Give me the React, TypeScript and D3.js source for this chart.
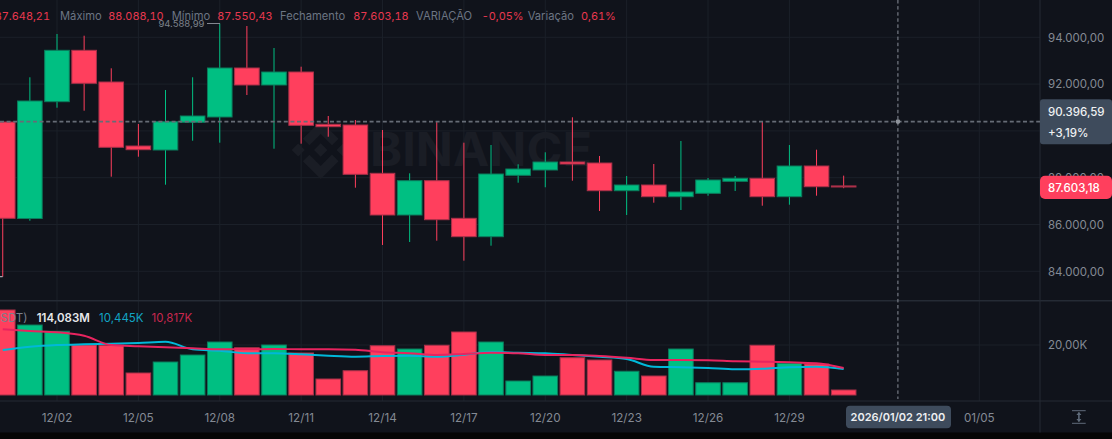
import React from "react";
import * as d3 from "d3";

const opens = [90380, 86256, 91248, 93444, 92090, 89355, 89184, 90368, 90594, 92688, 91962, 92517, 90282, 90252, 88188, 86406, 87872, 86265, 85479, 88103, 88329, 88671, 88628, 87444, 87688, 87188, 87333, 87846, 87974, 87188, 88500, 87648];
const closes = [86265, 91278, 93444, 92034, 89299, 89197, 90393, 90637, 92688, 91962, 92517, 90239, 90180, 88145, 86406, 87872, 86205, 85479, 88158, 88372, 88671, 88585, 87444, 87688, 87188, 87389, 87902, 87974, 87188, 88500, 87615, 87603];
const highs = [90380, 92291, 94141, 94068, 92675, 90295, 91748, 92291, 94589, 94483, 93543, 92744, 90637, 90466, 90038, 88188, 90380, 89496, 89397, 88573, 89085, 90581, 88927, 88073, 88585, 89568, 87987, 88073, 90380, 89397, 89197, 88088];
const lows = [83769, 86162, 90991, 90863, 88043, 88897, 87701, 89581, 89496, 91534, 89239, 89453, 89752, 87573, 85124, 85252, 85308, 84453, 85094, 87786, 87590, 87872, 86577, 86406, 86932, 86620, 87231, 87432, 86803, 86846, 87231, 87550];
// volume in thousands
const volumes = [34, 28, 25.5, 20, 19.9, 8.8, 13.2, 16, 21.2, 18.9, 20, 16.8, 6.4, 9.7, 19.7, 18.4, 19.9, 25.2, 21.2, 5.6, 7.6, 14.9, 14, 9.5, 7.6, 18.4, 4.9, 4.9, 19.9, 12.7, 12.4, 2];
const maPink = [26.3, 25.6, 25.1, 23.7, 20, 19.5, 19.1, 18.7, 18.3, 18.3, 18.4, 18.3, 18.3, 18.1, 17.1, 16.7, 16, 16.4, 16.9, 16.7, 16, 16, 15.6, 14.9, 14, 14, 13.9, 13.5, 13.3, 13.1, 12.7, 10.817];
const maCyan = [18, 19.3, 20, 20.3, 20.5, 20.8, 21.3, 18.3, 17.7, 16.7, 16.7, 16.3, 15.7, 15.3, 15.6, 15.7, 15.3, 16.1, 17.2, 16.9, 16.7, 16, 15.3, 14.4, 11.3, 11.1, 10.8, 10.3, 10.5, 11.1, 11.3, 10.445];

const priceTicks = [84000, 86000, 88000, 90000, 92000, 94000];
const volumeTicks = [20];
const timeTicks = ["2025-12-02", "2025-12-05", "2025-12-08", "2025-12-11", "2025-12-14", "2025-12-17", "2025-12-20", "2025-12-23", "2025-12-26", "2025-12-29", "2026-01-05"];

const headerItems = [
  ["Máximo", 60, "88.088,10", 108.3],
  ["Mínimo", 171.7, "87.550,43", 217.3],
  ["Fechamento", 280, "87.603,18", 353.3],
  ["VARIAÇÃO", 416, "-0,05%", 481.7],
  ["Variação", 527.7, "0,61%", 581],
] as const;

const BG = "#10131b";
const GRID = "#1b2029";
const LINE = "#252b35";
const RED = "#ff3f5d";
const GREEN = "#00bf82";
const RED_EDGE = "#a93049";
const GREEN_EDGE = "#0a7d5d";
const AXIS_TEXT = "#848a94";
const BOX = "#3e4b5c";
const FONT = "Inter, 'Noto Sans', sans-serif";
const LOGO = "m38.73 53.2 24.59-24.58 24.6 24.6 14.3-14.31L63.32 0 24.43 38.9l14.3 14.3zM0 63.31l14.3-14.31 14.31 14.31-14.31 14.3zm38.73 10.11 24.59 24.59 24.6-24.6 14.31 14.29-38.9 38.91-38.91-38.88-.02-.02zM98.01 63.31l14.3-14.3 14.3 14.3-14.3 14.3zm-20.2 0-14.49-14.5-10.7 10.7-1.24 1.24-2.54 2.54.02.03 14.46 14.47 14.5-14.5";

const width = 1112;
const height = 439;
const plotRight = 1040;

const days = d3.utcDay.range(new Date(Date.UTC(2025, 10, 30)), new Date(Date.UTC(2026, 0, 1)));
const crossDate = new Date(Date.UTC(2026, 0, 2));

const xScale = d3
  .scaleUtc()
  .domain([new Date(Date.UTC(2025, 11, 2)), new Date(Date.UTC(2026, 0, 5))])
  .range([57, 979.3]);
const yScale = d3.scaleLinear().domain([84000, 94000]).range([271.3, 37.3]);
const volScale = d3.scaleLinear().domain([0, 20]).range([395, 345]);

const ptBR = d3.formatLocale({ decimal: ",", thousands: ".", grouping: [3], currency: ["", ""] });
const fmtPrice = ptBR.format(",.2f");
const fmtDay = d3.utcFormat("%m/%d");

const lineGen = d3
  .line<number>()
  .x((_, i) => xScale(days[i]))
  .y((d) => volScale(d))
  .curve(d3.curveMonotoneX);

const bodyWidth = 24.6;

export default function App() {
  const crossX = xScale(crossDate);
  const crossY = yScale(90396.59);
  return (
    <svg width={width} height={height} style={{ position: "absolute", left: 0, top: 0, display: "block" }} fontFamily={FONT} fontSize={12}>
      <rect width={width} height={height} fill="#050505" />
      <rect width={width} height={432.5} fill={BG} />

      {/* grid */}
      {priceTicks.map((t) => (
        <line key={t} x1={0} x2={plotRight} y1={yScale(t)} y2={yScale(t)} stroke={GRID} />
      ))}
      {volumeTicks.map((t) => (
        <line key={t} x1={0} x2={plotRight} y1={volScale(t)} y2={volScale(t)} stroke={GRID} />
      ))}
      {timeTicks.map((t) => {
        const x = xScale(new Date(t + "T00:00:00Z"));
        return <line key={t} x1={x} x2={x} y1={0} y2={401} stroke={GRID} />;
      })}

      {/* watermark */}
      <path d={LOGO} fill="#1a1d25" transform="translate(291.7,121) scale(0.458)" />
      <text x={370} y={166} fontSize={47} fontWeight={700} fill="#1a1d25" textLength={222} lengthAdjust="spacingAndGlyphs">
        BINANCE
      </text>

      {/* candles */}
      {days.map((d, i) => {
        const x = xScale(d);
        const up = closes[i] >= opens[i];
        const top = yScale(Math.max(opens[i], closes[i]));
        const bottom = yScale(Math.min(opens[i], closes[i]));
        return (
          <g key={i}>
            <line x1={x} x2={x} y1={yScale(highs[i])} y2={yScale(lows[i])} stroke={up ? GREEN : RED} />
            <rect
              x={x - bodyWidth / 2}
              y={top}
              width={bodyWidth}
              height={Math.max(bottom - top, 1)}
              fill={up ? GREEN : RED}
              stroke={up ? GREEN_EDGE : RED_EDGE}
            />
          </g>
        );
      })}
      <line x1={207} x2={220} y1={yScale(94588.99)} y2={yScale(94588.99)} stroke="#858a93" />
      <text x={204.5} y={yScale(94588.99) + 3.5} fontSize={9.5} textAnchor="end" fill="#7d828b">
        94.588,99
      </text>
      <line x1={0} x2={2.6} y1={yScale(83769)} y2={yScale(83769)} stroke="#c8ccd2" />

      {/* volume */}
      {days.map((d, i) => {
        const up = closes[i] >= opens[i];
        return (
          <rect
            key={i}
            x={xScale(d) - bodyWidth / 2}
            y={volScale(volumes[i])}
            width={bodyWidth}
            height={volScale(0) - volScale(volumes[i])}
            fill={up ? GREEN : RED}
            stroke={up ? GREEN_EDGE : RED_EDGE}
          />
        );
      })}
      <path d={lineGen(maCyan) ?? ""} fill="none" stroke="#00b8d9" strokeWidth={2} />
      <path d={lineGen(maPink) ?? ""} fill="none" stroke="#e8245f" strokeWidth={2} />

      {/* panel separators */}
      <line x1={0} x2={width} y1={300.7} y2={300.7} stroke={LINE} strokeWidth={1.5} />
      <line x1={0} x2={width} y1={401} y2={401} stroke={LINE} />
      <line x1={plotRight} x2={plotRight} y1={0} y2={432.5} stroke={LINE} />

      {/* header legend */}
      <g fontSize={10.9} style={{ fontVariantNumeric: "tabular-nums" }}>
        <text x={50} y={20} textAnchor="end" fill="#e8384f">87.648,21</text>
        {headerItems.map(([label, lx, value, vx]) => (
          <g key={label}>
            <text x={lx} y={20} fontSize={11.2} fill="#6c7583">{label}</text>
            <text x={vx} y={20} fill="#e8384f">{value}</text>
          </g>
        ))}
      </g>

      {/* volume legend */}
      <g fontSize={11.5}>
        <text x={27.5} y={322} textAnchor="end" fill="#7a808c">(USDT)</text>
        <text x={36.7} y={322} fontWeight={600} fill="#e6e8ea">114,083M</text>
        <text x={99} y={322} fill="#12a5c4">10,445K</text>
        <text x={151.6} y={322} fill="#c9274f">10,817K</text>
      </g>

      {/* crosshair */}
      <line x1={0} x2={plotRight} y1={crossY} y2={crossY} stroke="#666c76" strokeWidth={1.8} strokeDasharray="4 2.6" />
      <line x1={crossX} x2={crossX} y1={0} y2={399} stroke="#8a8f98" strokeDasharray="3.5 2.6" />
      <circle cx={crossX} cy={crossY} r={2.4} fill="#8d929a" />

      {/* price axis */}
      <g fontSize={11.5}>
        {priceTicks.map((t) => (
          <text key={t} x={1048} y={yScale(t) + 4.2} fill={AXIS_TEXT}>
            {fmtPrice(t)}
          </text>
        ))}
        <text x={1048} y={volScale(20) + 4.2} fill={AXIS_TEXT}>20,00K</text>
        <rect x={plotRight} y={99.3} width={72} height={45} rx={3} fill={BOX} />
        <text x={1048} y={115.5} fontWeight={500} fill="#eef0f2">{fmtPrice(90396.59)}</text>
        <text x={1048} y={137} fontWeight={500} fill="#eef0f2">+3,19%</text>
        <rect x={plotRight} y={175.7} width={72} height={23.3} rx={5} fill={RED} />
        <text x={1048} y={192} fontWeight={500} fill="#ffffff">{fmtPrice(87603.18)}</text>
      </g>

      {/* time axis */}
      {timeTicks.map((t) => (
        <text key={t} x={xScale(new Date(t + "T00:00:00Z"))} y={422} textAnchor="middle" fontSize={11.7} fill={AXIS_TEXT}>
          {fmtDay(new Date(t + "T00:00:00Z"))}
        </text>
      ))}
      <rect x={846} y={405.7} width={105} height={22.6} rx={4} fill={BOX} />
      <text x={crossX} y={421.3} textAnchor="middle" fontSize={11} fontWeight={600} fill="#eef0f2">2026/01/02 21:00</text>

      {/* auto-scale icon */}
      <g stroke="#5f6b7a" fill="none">
        <line x1={1072} x2={1085.7} y1={410.7} y2={410.7} />
        <line x1={1072} x2={1085.7} y1={423.3} y2={423.3} />
        <line x1={1078.9} x2={1078.9} y1={412.5} y2={421.5} strokeWidth={1.6} />
      </g>
      <path d="M1076.4 415 L1078.9 412 L1081.4 415 Z M1076.4 419 L1078.9 422 L1081.4 419 Z" fill="#5f6b7a" />
    </svg>
  );
}
